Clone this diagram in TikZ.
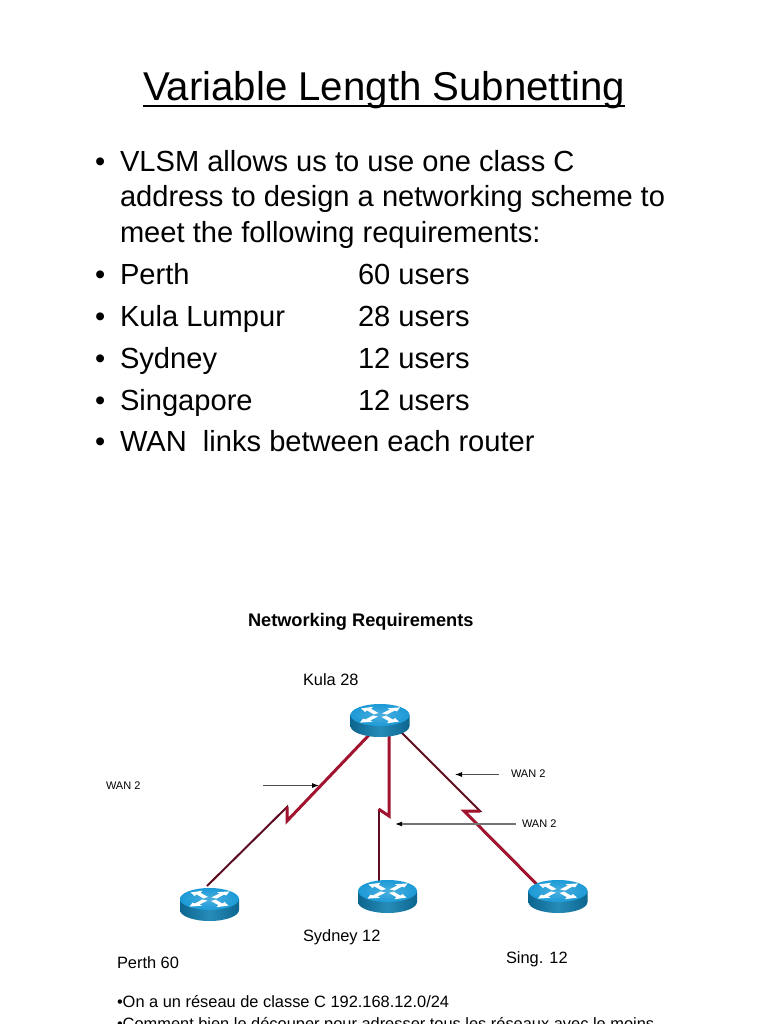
\documentclass[tikz,border=0pt]{standalone}
\usepackage{fontspec}
\setmainfont{Liberation Sans}
\usetikzlibrary{calc,arrows.meta}
\definecolor{wanred}{HTML}{A0142F}
\definecolor{wandark}{HTML}{5E0D20}
\definecolor{routertop}{HTML}{1C9AD6}
\definecolor{routerside}{HTML}{0F7FB2}
\tikzset{
  x=1pt,y=-1pt,
  txt/.style={anchor=base west,inner sep=0pt,outer sep=0pt,text=black},
  titletxt/.style={txt,font=\fontsize{40.2}{40.2}\selectfont},
  bodytxt/.style={txt,font=\fontsize{29.1}{29.1}\selectfont},
  headtxt/.style={txt,font=\fontsize{18.2}{18.2}\selectfont\bfseries},
  labeltxt/.style={txt,font=\fontsize{16.4}{16.4}\selectfont},
  smalltxt/.style={txt,font=\fontsize{11}{11}\selectfont},
  router/.style={minimum width=60pt,minimum height=33pt,inner sep=0pt,outer sep=0pt},
  wanthin/.style={draw=wandark,line width=2pt,line join=miter},
  wanthick/.style={draw=wanred,line width=3pt,line join=miter},
  callout/.style={draw=black!70,line width=.8pt,-{Latex[length=7pt,width=5pt,black]}},
}
\newcommand{\routerart}[1]{%
  \begin{scope}[shift={(#1.center)}]
    \path[left color=routerside!80!black,right color=routerside!80!black,middle color=routerside!90!white]
      (-29.5,-5.5) -- (-29.5,5.5) .. controls (-29.5,11.6) and (-16.3,16.5) .. (0,16.5)
      .. controls (16.3,16.5) and (29.5,11.6) .. (29.5,5.5) -- (29.5,-5.5) -- cycle;
    \path[inner color=routertop!80!white,outer color=routertop]
      (0,-5.5) ellipse[x radius=29.5,y radius=11];
    \begin{scope}[shift={(0,-5.5)}]
      \fill[white] (-19,-6.6) -- (-7,-8.2) -- (-9,-6.2) -- (-1.5,-2) -- (-6,-.6) -- (-13,-4.6) -- (-15,-3) -- cycle;
      \fill[white] (19,6.6) -- (7,8.2) -- (9,6.2) -- (1.5,2) -- (6,.6) -- (13,4.6) -- (15,3) -- cycle;
      \fill[white] (2,-1.6) -- (10,-5.6) -- (7.5,-6.8) -- (20,-7.6) -- (17,-3.6) -- (14.5,-4.4) -- (7,-.4) -- cycle;
      \fill[white] (-2,1.6) -- (-10,5.6) -- (-7.5,6.8) -- (-20,7.6) -- (-17,3.6) -- (-14.5,4.4) -- (-7,.4) -- cycle;
    \end{scope}
  \end{scope}}
\begin{document}
\begin{tikzpicture}
  \useasboundingbox (0,0) rectangle (768,1024);
  \clip (0,0) rectangle (768,1024);
  \fill[white] (0,0) rectangle (768,1024);

  \node[titletxt] (title) at (143,101) {Variable Length Subnetting};
  \draw[line width=2pt] ($(title.base west)+(0,5)$) -- ($(title.base east)+(0,5)$);

  \node[bodytxt] (b1) at (95,172) {•};
  \node[bodytxt] (t1a) at (120,172) {VLSM allows us to use one class C};
  \node[bodytxt] (t1b) at (120,207) {address to design a networking scheme to};
  \node[bodytxt] (t1c) at (120,242) {meet the following requirements:};
  \node[bodytxt] (b2) at (95,284) {•};
  \node[bodytxt] (t2) at (120,284) {Perth};
  \node[bodytxt] (u2) at (358,284) {60 users};
  \node[bodytxt] (b3) at (95,326) {•};
  \node[bodytxt] (t3) at (120,326) {Kula Lumpur};
  \node[bodytxt] (u3) at (358,326) {28 users};
  \node[bodytxt] (b4) at (95,368) {•};
  \node[bodytxt] (t4) at (120,368) {Sydney};
  \node[bodytxt] (u4) at (358,368) {12 users};
  \node[bodytxt] (b5) at (95,410) {•};
  \node[bodytxt] (t5) at (120,410) {Singapore};
  \node[bodytxt] (u5) at (358,410) {12 users};
  \node[bodytxt] (b6) at (95,451) {•};
  \node[bodytxt] (t6) at (120,451) {WAN\ \ links between each router};

  \node[headtxt] (head) at (248,626) {Networking Requirements};

  \node[router] (kula) at (380,720.5) {};
  \node[router] (perth) at (209.5,904.5) {};
  \node[router] (sydney) at (387.5,896.5) {};
  \node[router] (sing) at (558,896.5) {};

  \coordinate (pz1) at (287,821); \coordinate (pz2) at (287,807);
  \coordinate (yz1) at (389,816); \coordinate (yz2) at (378.5,809);
  \coordinate (gz1) at (480,811); \coordinate (gz2) at (464,811);

  \draw[wanthin] (pz1) -- (pz2) -- (207,886);
  \draw[wanthick] ($(kula.south)+(-11,-2)$) -- (pz1) -- (pz2);
  \draw[wanthin] (yz2) -- (378.5,881);
  \draw[wanthick] ($(kula.south)+(9,-3)$) -- (yz1) -- (yz2);
  \draw[wanthin] ($(kula.south)+(21,-5)$) -- (gz1) -- (gz2);
  \draw[wanthick] (gz1) -- (gz2) -- ($(sing.center)+(-20,-11)$);

  \routerart{kula}
  \routerart{perth}
  \routerart{sydney}
  \routerart{sing}

  \node[labeltxt] (lkula) at (303,685) {Kula 28};
  \node[labeltxt] (lsyd) at (303,941) {Sydney 12};
  \node[labeltxt] (lperth) at (117,968) {Perth 60};
  \node[labeltxt] (lsing) at (506,963) {Sing. 12};

  \node[smalltxt] (w1) at (106,789) {WAN 2};
  \node[smalltxt] (w2) at (511,777) {WAN 2};
  \node[smalltxt] (w3) at (522,827) {WAN 2};

  \coordinate (a1s) at (263,785.5);
  \coordinate (a1e) at (319,785.5);
  \coordinate (a2s) at (499,774.5);
  \coordinate (a2e) at (455,774.5);
  \coordinate (a3s) at (516,824);
  \coordinate (a3e) at (395,824);
  \draw[callout] (a1s) -- (a1e);
  \draw[callout] (a2s) -- (a2e);
  \draw[callout,draw=black!55,line width=1.2pt] (a3s) -- (a3e);

  \node[labeltxt] (n1) at (117,1007) {•On a un réseau de classe C 192.168.12.0/24};
  \node[labeltxt] (n2) at (117,1029) {•Comment bien le découper pour adresser tous les réseaux avec le moins};
\end{tikzpicture}
\end{document}
